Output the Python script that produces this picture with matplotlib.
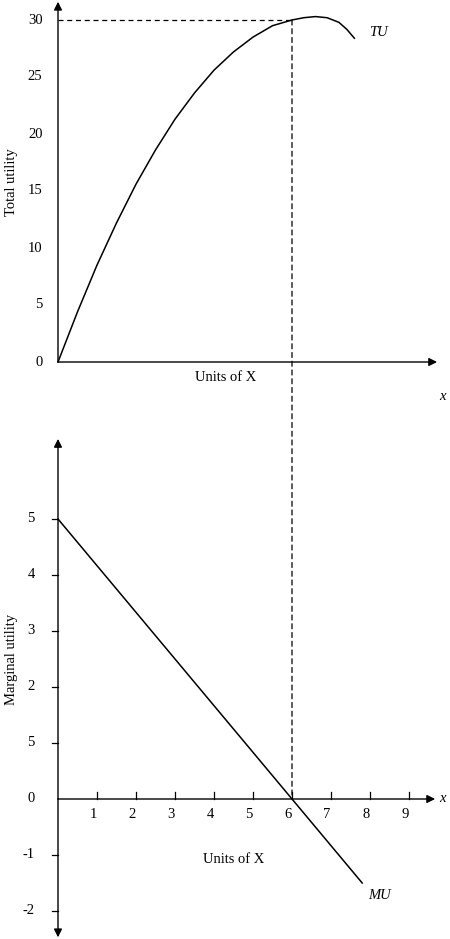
import matplotlib
matplotlib.use("Agg")
import matplotlib.pyplot as plt
from matplotlib.patches import ConnectionPatch

plt.rcParams['font.family'] = ['Liberation Serif', 'DejaVu Serif']

tu_x = [0, 0.5, 1, 1.5, 2, 2.5, 3, 3.5, 4, 4.5, 5, 5.5, 6, 6.3, 6.6, 6.9, 7.2, 7.4, 7.6]
tu_y = [0, 4.4, 8.5, 12.2, 15.6, 18.6, 21.3, 23.6, 25.6, 27.2, 28.5, 29.5, 30.0, 30.2, 30.3, 30.2, 29.8, 29.2, 28.4]
top_yticks = [0, 5, 10, 15, 20, 25, 30]
mu_x = [0, 7.8]
mu_y = [5, -1.5]
bot_xticks = [1, 2, 3, 4, 5, 6, 7, 8, 9]
bot_yticks = [5, 4, 3, 2, 1, 0, -1, -2]
bot_ylabels = ['5', '4', '3', '2', '5', '0', '-1', '-2']

W, H = 450, 939
fig = plt.figure(figsize=(4.5, 9.39), dpi=100)
ax1 = fig.add_axes([0, 1 - 420 / H, 1, 420 / H])
ax2 = fig.add_axes([0, 0, 1, 519 / H])
xl = (-58 / 39, 392 / 39)
ax1.set_xlim(*xl); ax1.set_ylim(-(420 - 362) / 11.4, 362 / 11.4)
ax2.set_xlim(*xl); ax2.set_ylim(-(939 - 799) / 56, (799 - 420) / 56)
for a in (ax1, ax2):
    a.axis('off')

arr = dict(arrowstyle='-|>', color='black', lw=1, mutation_scale=12, shrinkA=0, shrinkB=0)
fs = 10.5
# top axes
ax1.annotate('', xy=(0, 31.6), xytext=(0, 0), arrowprops=arr)
ax1.annotate('', xy=(9.72, 0), xytext=(0, 0), arrowprops=arr)
ax1.plot(tu_x, tu_y, color='black', lw=1.1)
for t in top_yticks:
    ax1.text(-0.4, t, str(t), ha='right', va='center', fontsize=fs)
ax1.text(7.98, 28.9, 'TU', style='italic', fontsize=fs, va='center')
ax1.text(9.85, -3.07, 'x', style='italic', fontsize=fs, ha='center', va='center')
ax1.text(4.3, -1.4, 'Units of X', fontsize=fs, ha='center', va='center')
ax1.text(-1.18, 15.8, 'Total utility', rotation=90, fontsize=fs, ha='center', va='center')
ax1.plot([0, 6], [30, 30], color='black', lw=0.9, ls=(0, (4, 3)))

# bottom axes
ax2.annotate('', xy=(0, 6.43), xytext=(0, 0), arrowprops=arr)
ax2.annotate('', xy=(0, -2.47), xytext=(0, 0), arrowprops=arr)
ax2.annotate('', xy=(9.67, 0), xytext=(0, 0), arrowprops=arr)
for t in bot_xticks:
    ax2.plot([t, t], [0, 0.12], color='black', lw=0.9)
    ax2.text(t - 0.1, -0.16, str(t), ha='center', va='top', fontsize=fs)
for t, l in zip(bot_yticks, bot_ylabels):
    if t != 0:
        ax2.plot([-0.15, 0], [t, t], color='black', lw=0.9)
    ax2.text(-0.6, t, l, ha='right', va='center', fontsize=fs)
ax2.plot(mu_x, mu_y, color='black', lw=1.1)
ax2.text(7.95, -1.72, 'MU', style='italic', fontsize=fs, va='center')
ax2.text(9.85, 0, 'x', style='italic', fontsize=fs, ha='center', va='center')
ax2.text(4.5, -1.08, 'Units of X', fontsize=fs, ha='center', va='center')
ax2.text(-1.18, 2.5, 'Marginal utility', rotation=90, fontsize=fs, ha='center', va='center')

con = ConnectionPatch(xyA=(6, 30), coordsA=ax1.transData, xyB=(6, 0), coordsB=ax2.transData,
                      color='black', lw=0.9, ls=(0, (4, 3)))
fig.add_artist(con)
fig.savefig('out.png', dpi=100)
